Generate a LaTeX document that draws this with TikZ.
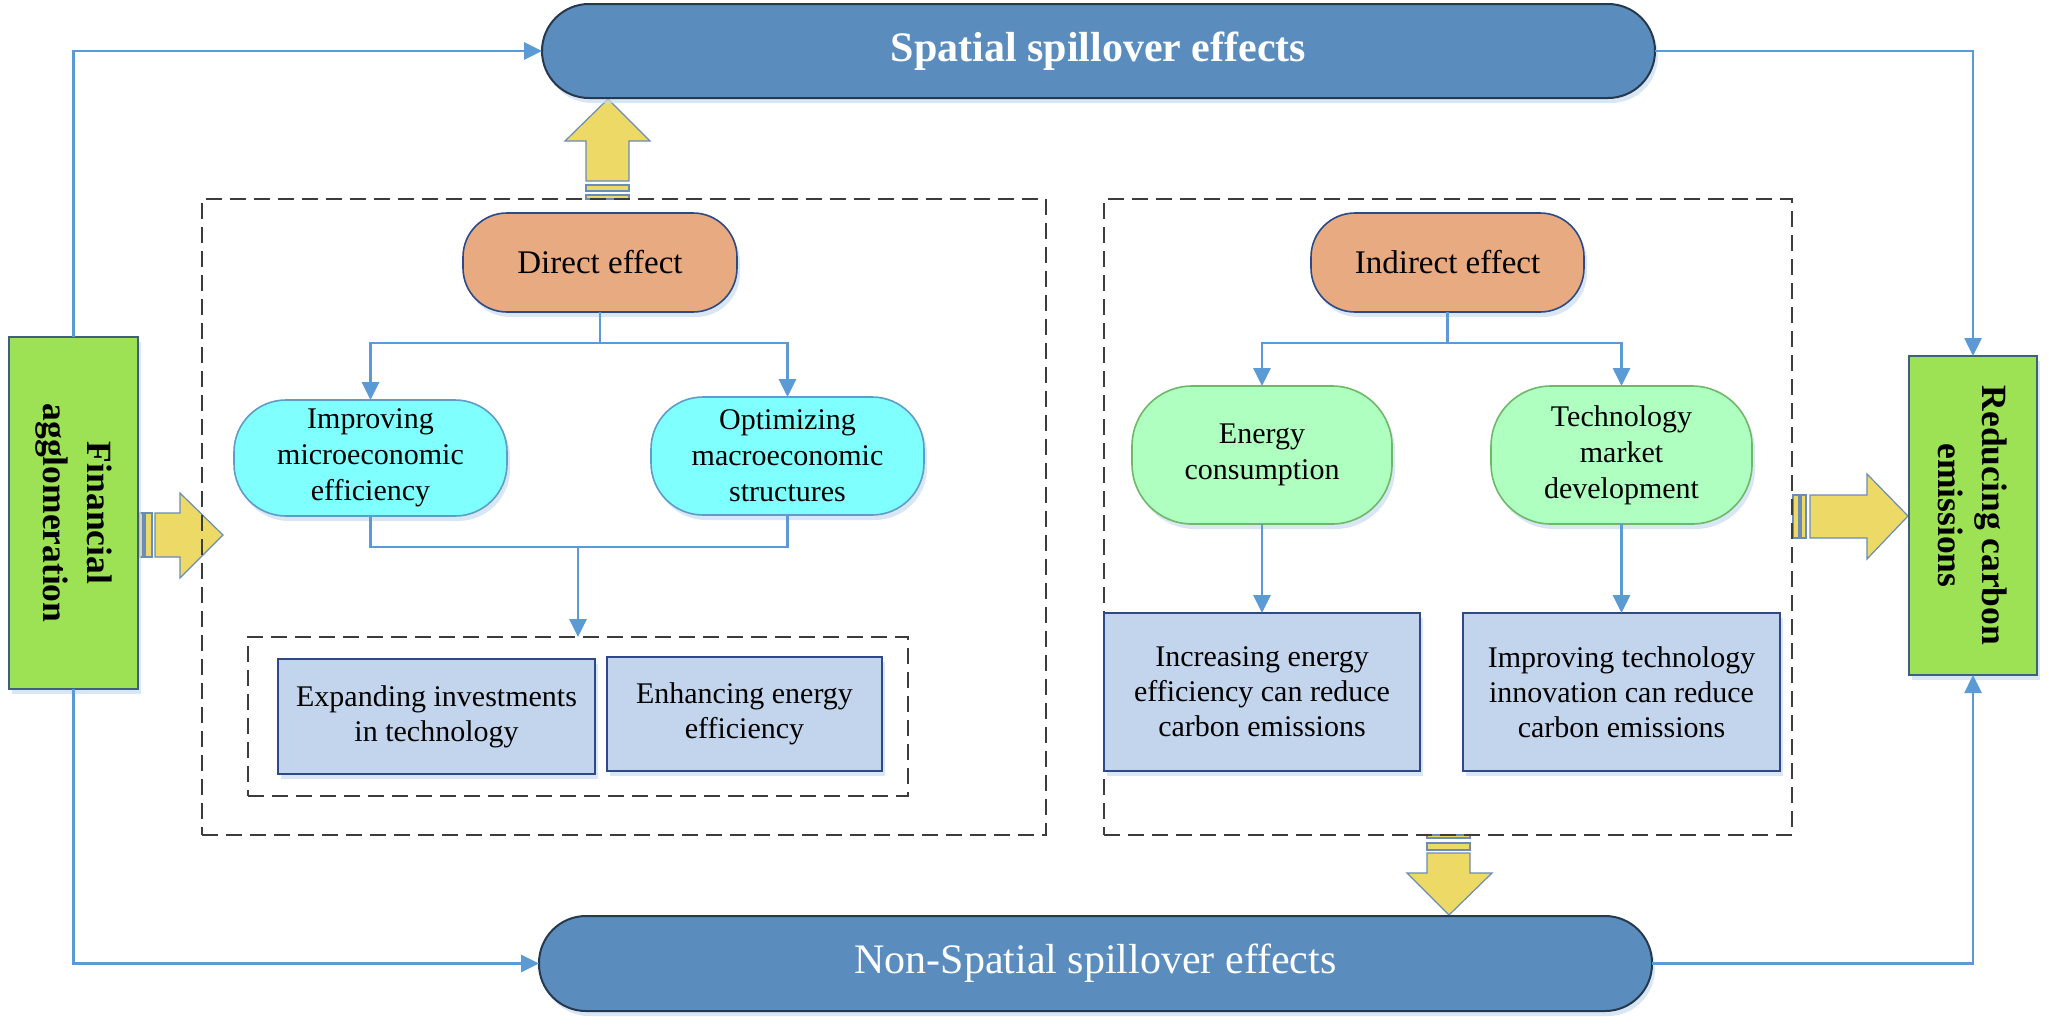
\documentclass[tikz,border=0pt]{standalone}
\usepackage{fontspec}
\setmainfont{Liberation Serif}
\usetikzlibrary{arrows.meta,shadows}
\definecolor{connc}{HTML}{5B9BD5}
\definecolor{pillblue}{HTML}{5A8DBE}
\definecolor{pillborder}{HTML}{26384D}
\definecolor{orangef}{HTML}{E8AA80}
\definecolor{cyanf}{HTML}{80FFFF}
\definecolor{cyanb}{HTML}{5F9CC8}
\definecolor{mintf}{HTML}{AEFFC0}
\definecolor{mintb}{HTML}{6FB86A}
\definecolor{boxf}{HTML}{C2D5EC}
\definecolor{boxb}{HTML}{2E4A86}
\definecolor{greenf}{HTML}{9DE155}
\definecolor{greenb}{HTML}{3F5F7A}
\definecolor{yellowf}{HTML}{EDD966}
\definecolor{yellowb}{HTML}{6A8CB5}
\definecolor{dashc}{HTML}{3C3C3C}
\definecolor{shadc}{HTML}{C9DDF0}
\begin{document}
\begin{tikzpicture}[x=0.5pt,y=-0.5pt,
  shad/.style={drop shadow={shadow xshift=1.5pt,shadow yshift=-2.5pt,fill=shadc,opacity=0.7}},
  base/.style={inner sep=0pt,outer sep=0pt,align=center,shad},
  bigpill/.style={base,draw=pillborder,line width=1pt,fill=pillblue,rounded corners=23.5pt,text=white,font=\fontsize{21}{25}\selectfont},
  orpill/.style={base,draw=boxb,line width=0.8pt,fill=orangef,rounded corners=22pt,font=\fontsize{16.5}{19}\selectfont},
  cypill/.style={base,draw=cyanb,line width=0.8pt,fill=cyanf,rounded corners=26pt,font=\fontsize{15}{18}\selectfont},
  mipill/.style={base,draw=mintb,line width=0.8pt,fill=mintf,rounded corners=30pt,font=\fontsize{15}{18}\selectfont},
  bluebox/.style={base,draw=boxb,line width=1pt,fill=boxf,font=\fontsize{15}{17.5}\selectfont},
  greenbox/.style={base,draw=greenb,line width=1pt,fill=greenf},
  gtext/.style={inner sep=0pt,align=center,rotate=-90,font=\fontsize{17.75}{22}\selectfont\bfseries},
  dbox/.style={draw=dashc,line width=1pt,dash pattern=on 8pt off 4pt,inner sep=0pt,outer sep=0pt},
  conn/.style={draw=connc,line width=1.4pt},
  arr/.style={conn,-{Triangle[width=8.5pt,length=9pt]}},
  blockarr/.style={fill=yellowf,draw=yellowb,line width=0.6pt,line join=miter}
]
\useasboundingbox (0,0) rectangle (2049,1028);

% yellow block arrows (drawn first, dashed frames over them)
\draw[blockarr] (586,181) -- (586,141) -- (565,141) -- (608,99) -- (650,141) -- (629,141) -- (629,181) -- cycle;
\draw[blockarr] (586,185) rectangle (629,191);
\draw[blockarr] (586,195) rectangle (629,199);

\draw[blockarr] (1427,853) -- (1427,873) -- (1407,873) -- (1449,915) -- (1492,873) -- (1470,873) -- (1470,853) -- cycle;
\draw[blockarr] (1427,835) rectangle (1470,838);
\draw[blockarr] (1427,843) rectangle (1470,850);

\draw[blockarr] (155,513) -- (180,513) -- (180,493) -- (223,535) -- (180,578) -- (180,557) -- (155,557) -- cycle;
\draw[blockarr] (139,513) rectangle (143,557);
\draw[blockarr] (145,513) rectangle (152,557);

\draw[blockarr] (1810,495) -- (1867,495) -- (1867,474) -- (1908,516) -- (1867,559) -- (1867,538) -- (1810,538) -- cycle;
\draw[blockarr] (1793,495) rectangle (1799,538);
\draw[blockarr] (1801,495) rectangle (1806,538);

% dashed frames
\node[dbox,minimum width=422pt,minimum height=318pt] (leftframe) at (624,517) {};
\node[dbox,minimum width=344pt,minimum height=318pt] (rightframe) at (1448,517) {};
\node[dbox,minimum width=330pt,minimum height=79.5pt] (inner) at (578,716.5) {};

% big pills
\node[bigpill,minimum width=556.5pt,minimum height=47pt,font=\fontsize{21}{25}\selectfont\bfseries] (spatial) at (1098.5,51) {\raisebox{-2pt}{Spatial spillover effects}};
\node[bigpill,minimum width=556.5pt,minimum height=47.5pt] (nonspatial) at (1095.5,963.5) {\raisebox{-1.5pt}{Non-Spatial spillover effects}};

% green side boxes
\node[greenbox,minimum width=64.5pt,minimum height=176pt] (fin) at (73.5,513) {};
\node[gtext] (fintext) at (fin.center) {Financial\\agglomeration};
\node[greenbox,minimum width=64pt,minimum height=159.5pt] (red) at (1973,515.5) {};
\node[gtext] (redtext) at (red.center) {Reducing carbon\\emissions};

% direct effect branch
\node[orpill,minimum width=137pt,minimum height=49.5pt] (direct) at (600,262.5) {Direct effect};
\node[cypill,minimum width=136.5pt,minimum height=58pt] (improv) at (370.5,458) {Improving\\microeconomic\\efficiency};
\node[cypill,minimum width=136.5pt,minimum height=59pt] (optim) at (787.5,456) {Optimizing\\macroeconomic\\structures};
\node[bluebox,minimum width=158.5pt,minimum height=57.5pt] (expand) at (436.5,716.5) {Expanding investments\\in technology};
\node[bluebox,minimum width=137.5pt,minimum height=57pt] (enhance) at (744.5,714) {Enhancing energy\\efficiency};

% indirect effect branch
\node[orpill,minimum width=136.5pt,minimum height=49.5pt] (indirect) at (1447.5,262.5) {Indirect effect};
\node[mipill,minimum width=130pt,minimum height=69pt] (energy) at (1262,455) {Energy\\consumption};
\node[mipill,minimum width=130.5pt,minimum height=69pt] (techm) at (1621.5,455) {Technology\\market\\development};
\node[bluebox,minimum width=158pt,minimum height=79pt] (incr) at (1262,692) {Increasing energy\\efficiency can reduce\\carbon emissions};
\node[bluebox,minimum width=158.5pt,minimum height=79pt] (imptech) at (1621.5,692) {Improving technology\\innovation can reduce\\carbon emissions};

% connectors: direct branch
\draw[conn] (direct.south) -- ++(0,31) coordinate (dj);
\draw[arr] (dj) -| (improv.north);
\draw[arr] (dj) -| (optim.north);
\coordinate (mj) at (inner.north |- 0,547);
\draw[conn] (improv.south) |- (mj) -| (optim.south);
\draw[arr] (mj) -- (inner.north);

% connectors: indirect branch
\draw[conn] (indirect.south) -- ++(0,31) coordinate (ij);
\draw[arr] (ij) -| (energy.north);
\draw[arr] (ij) -| (techm.north);
\draw[arr] (energy.south) -- (incr.north);
\draw[arr] (techm.south) -- (imptech.north);

% outer loop
\draw[arr] (fin.north) |- (spatial.west);
\draw[arr] (spatial.east) -| (red.north);
\draw[arr] (fin.south) |- (nonspatial.west);
\draw[arr] (nonspatial.east) -| (red.south);
\end{tikzpicture}
\end{document}
